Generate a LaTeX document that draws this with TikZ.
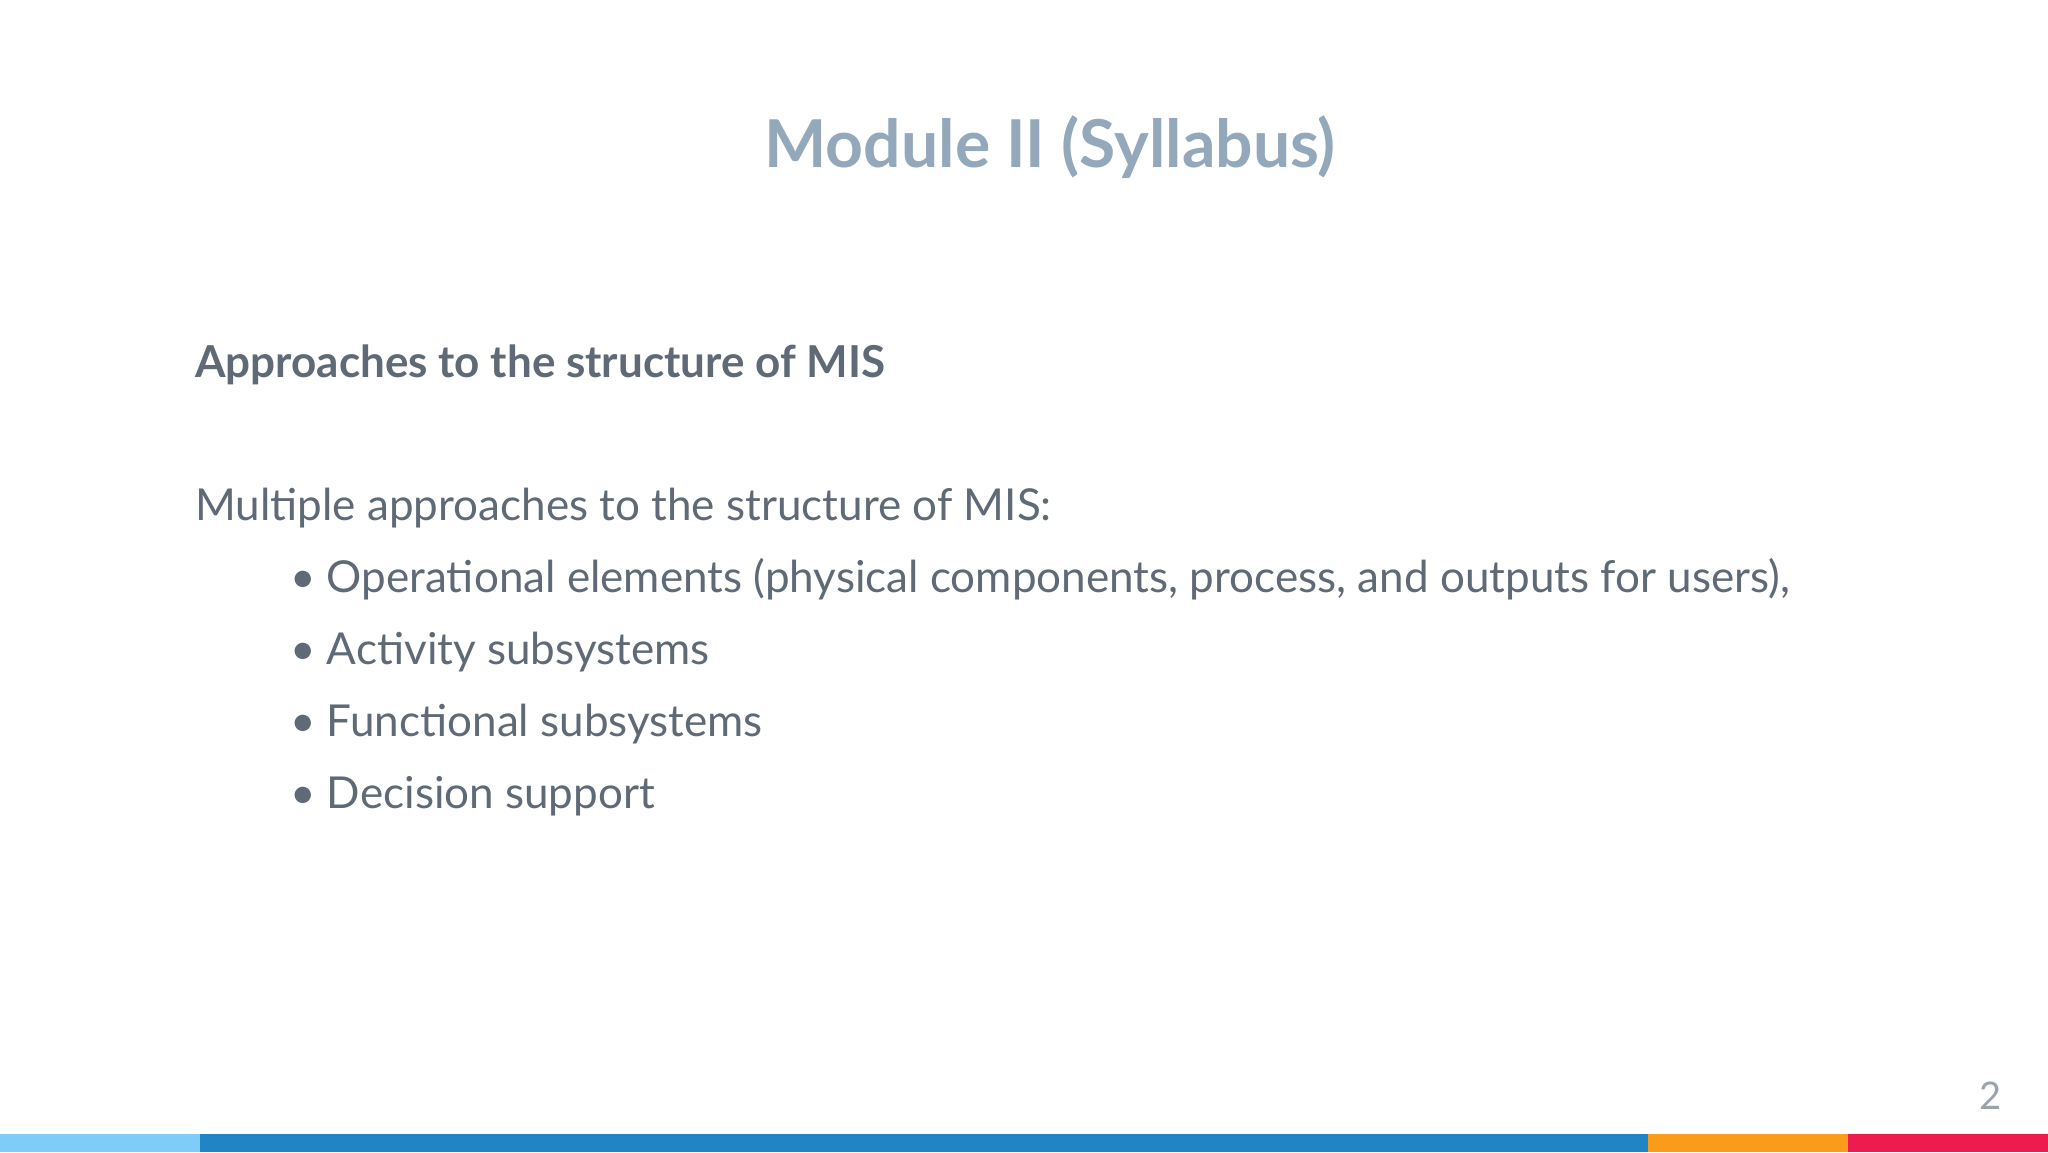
\documentclass[tikz,border=0pt]{standalone}
\usepackage{fontspec}
\setmainfont{Lato}
\definecolor{titlec}{HTML}{93A8BA}
\definecolor{textc}{HTML}{5F6A76}
\definecolor{numc}{HTML}{9AA3AC}
\definecolor{barA}{HTML}{7FCCF8}
\definecolor{barB}{HTML}{2185C5}
\definecolor{barC}{HTML}{FA9B1C}
\definecolor{barD}{HTML}{EE1B4F}
\begin{document}
\begin{tikzpicture}[x=1pt,y=1pt,
  body/.style={anchor=base west,inner sep=0pt,text=textc,font=\fontsize{44}{50}\selectfont},
  bul/.style={anchor=base west,inner sep=0pt,text=textc,font=\fontsize{44}{50}\selectfont}]
\useasboundingbox (0,0) rectangle (2048,1152);
\fill[white] (0,0) rectangle (2048,1152);
\node[anchor=base,inner sep=0pt,text=titlec,font=\fontsize{66}{72}\selectfont\bfseries] (title) at (1050,1152-168) {Module II (Syllabus)};
\node[body,font=\fontsize{44}{50}\selectfont\bfseries] (head) at (195,1152-378) {Approaches to the structure of MIS};
\node[body] (intro) at (195,1152-521) {Multiple approaches to the structure of MIS:};
\node[bul] (b1) at (290,1152-593) {\textbullet\ Operational elements (physical components, process, and outputs for users),};
\node[bul] (b2) at (290,1152-665) {\textbullet\ Activity subsystems};
\node[bul] (b3) at (290,1152-737) {\textbullet\ Functional subsystems};
\node[bul] (b4) at (290,1152-809) {\textbullet\ Decision support};
\node[anchor=base east,inner sep=0pt,text=numc,font=\fontsize{38}{40}\selectfont] (pg) at (2002,1152-1109) {2};
\fill[barA] (0,0) rectangle (200,18);
\fill[barB] (200,0) rectangle (1648,18);
\fill[barC] (1648,0) rectangle (1848,18);
\fill[barD] (1848,0) rectangle (2048,18);
\end{tikzpicture}
\end{document}
